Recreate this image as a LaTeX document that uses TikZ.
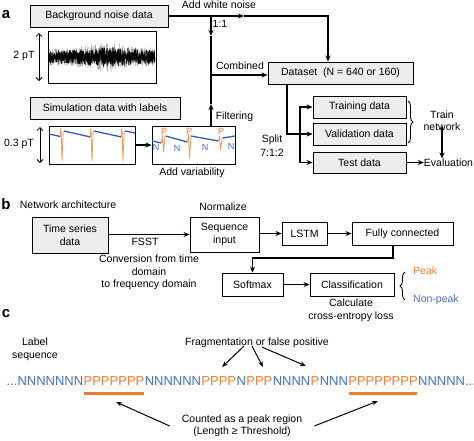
\documentclass[tikz,border=0pt]{standalone}
\usepackage{fontspec}
\setmainfont{Liberation Sans}
\usetikzlibrary{arrows.meta,decorations.pathreplacing,calc}
\definecolor{bxgray}{HTML}{EDEDED}
\definecolor{pkorange}{HTML}{ED7D31}
\definecolor{npblue}{HTML}{4472C4}
\definecolor{sigblue}{HTML}{2F5DB8}
\definecolor{sigorange}{HTML}{EE9A5A}
\begin{document}
\begin{tikzpicture}[x=1pt,y=-1pt,
  every node/.style={font=\fontsize{10.5}{12.5}\selectfont, inner sep=0pt},
  gbox/.style={draw, fill=bxgray, line width=0.9pt},
  wbox/.style={draw, fill=white, line width=0.9pt},
  conn/.style={line width=1.2pt, -{Stealth[length=6pt,width=5pt]}},
  plainline/.style={line width=1.2pt},
  scalebar/.style={line width=0.8pt, {Straight Barb[length=3pt,width=6pt]}-{Straight Barb[length=3pt,width=6pt]}},
  panel/.style={font=\fontsize{15}{16}\selectfont\bfseries},
  seqtxt/.style={font=\fontsize{13}{15}\selectfont, anchor=base west},
  seqN/.style={seqtxt, text=npblue},
  seqP/.style={seqtxt, text=pkorange},
  bar/.style={pkorange, line width=3.5pt},
  thinarr/.style={line width=1pt, -{Stealth[length=6pt,width=4.5pt]}},
  bracepath/.style={decorate, decoration={brace, amplitude=5pt}, line width=0.9pt},
  blueline/.style={sigblue, line width=1.3pt},
  spike/.style={sigorange, line width=0.8pt, line join=round},
]
\useasboundingbox (0,0) rectangle (474,440);

% ---------------- panel a ----------------
\node[panel] (pa) at (6,15) {a};
\node[gbox, minimum width=138pt, minimum height=22pt] (bg) at (99,16) {Background noise data};
\node[wbox, minimum width=108pt, minimum height=52pt] (nz) at (102,57) {};
\node[gbox, minimum width=150pt, minimum height=22pt] (sim) at (105,108) {Simulation data with labels};
\node[wbox, minimum width=86pt, minimum height=38pt] (sg1) at (92,145) {};
\node[wbox, minimum width=83pt, minimum height=38pt] (var) at (193.5,145) {};
\node[gbox, minimum width=145pt, minimum height=22pt] (ds) at (340.5,73) {Dataset\ \ (N = 640 or 160)};
\node[gbox, minimum width=93pt, minimum height=22pt] (train) at (359.5,107) {Training data};
\node[gbox, minimum width=93pt, minimum height=22pt] (val) at (359.5,134) {Validation data};
\node[gbox, minimum width=93pt, minimum height=21pt] (test) at (359.5,162.5) {Test data};

% noise signal
\pgfmathsetseed{12}
\draw[gray!70, line width=0.45pt] plot[samples=420, domain=49:155] (\x,{57+rand*(9+6*exp(-(((\x-108)/22)^2)))});
\draw[black, line width=0.55pt] plot[samples=520, domain=49:155] (\x,{57+rand*(7+3*exp(-(((\x-108)/22)^2)))});
\draw[black, line width=0.5pt] plot[samples=300, domain=49:155] (\x,{57+rand*(4.5+1.5*exp(-(((\x-108)/22)^2)))});

% scale bars
\draw[scalebar] (39,33) -- (39,81);
\node (lab2pt) at (24,56) {2 pT};
\draw[scalebar] (40,127) -- (40,163);
\node (lab03) at (19,144) {0.3 pT};

% simulated signal 1
\draw[blueline] (49,134) -- (60.5,136.5);
\draw[blueline] (64,131) -- (90.5,137);
\draw[blueline] (94,131) -- (121.5,137);
\draw[blueline] (125,131) -- (135,133);
\foreach \s in {62,92,123}{
  \draw[spike] (\s-2,136) -- (\s-1,128.5) -- (\s,161) -- (\s+1.2,131.5);
}
% signal with variability
\draw[blueline] (152,141) -- (161.5,143);
\draw[blueline] (165.5,136) -- (187.5,142);
\draw[blueline] (191,136) -- (218.5,141);
\draw[blueline] (222.5,138) -- (235,136);
\draw[spike] (161.5,143) -- (162.5,135) -- (163.5,152) -- (165,136.5);
\draw[spike] (187.5,142) -- (188.5,134) -- (189.5,158) -- (191,136.5);
\draw[spike] (218.5,141) -- (219.5,136) -- (220.5,150) -- (222,138.5);
\foreach \px/\nm in {164/p1,189/p2,221/p3}{
  \node[text=pkorange, font=\fontsize{9}{10}\selectfont] (\nm) at (\px,131.5) {P};
}
\foreach \nx/\ny/\nm in {156/147/n1,177/148/n2,205/147/n3,231/146/n4}{
  \node[text=npblue, font=\fontsize{9}{10}\selectfont] (\nm) at (\nx,\ny) {N};
}
\draw[conn] (sg1.east) -- (var.west);
\node (addvar) at (192,172.5) {Add variability};

% connectors
\coordinate (j1) at (211,16);
\coordinate (mid1) at (244,16);
\coordinate (cnr) at (328,16);
\coordinate (dn1) at (211,36);
\coordinate (up1) at (211,104);
\coordinate (cmb) at (211,75);
\draw[conn] (bg.east) -- (mid1);
\draw[conn] (mid1) -- (cnr) -- (cnr |- ds.north);
\draw[conn] (j1) -- (dn1);
\draw[plainline] (dn1) -- (up1);
\draw[conn] (var.north -| j1) -- (up1);
\draw[conn] (cmb) -- (cmb -| ds.west);
\node (addwn) at (219,4.5) {Add white noise};
\node (r11) at (220,24) {1:1};
\node (comb) at (240,66) {Combined};
\node (filt) at (234.5,116.5) {Filtering};

\coordinate (dsx) at (287,84);
\coordinate (spl) at (300,162.5);
\draw[conn] (dsx) |- (val.west);
\draw[conn] (spl) |- (train.west);
\draw[conn] (spl) -- (test.west);
\node[align=center] (split) at (272,145.5) {Split\\[1pt]7:1:2};

\draw[bracepath] (408,101) -- (408,143);
\node[align=center] (tn) at (442,120.5) {Train\\network};
\node (eval) at (448.5,162.5) {Evaluation};
\draw[conn] (test.east) -- (eval.west);
\draw[conn] ([yshift=4pt]tn.south) -- (tn.south |- eval.north);

% ---------------- panel b ----------------
\node[panel] (pb) at (6,204) {b};
\node (netarch) at (68,205) {Network architecture};
\node[gbox, minimum width=76pt, minimum height=36pt, align=center] (ts) at (70,235) {Time series\\data};
\node[wbox, minimum width=69pt, minimum height=35pt, align=center] (seq) at (224.5,234.5) {Sequence\\input};
\node[wbox, minimum width=45pt, minimum height=23pt] (lstm) at (304.5,233.5) {LSTM};
\node[wbox, minimum width=101pt, minimum height=23pt] (fc) at (402.5,233.5) {Fully connected};
\node[wbox, minimum width=61pt, minimum height=23pt] (sm) at (252.5,284.5) {Softmax};
\node[wbox, minimum width=84pt, minimum height=23pt] (cls) at (352,284.5) {Classification};
\node (norm) at (223,207) {Normalize};
\node (fsst) at (145,242) {FSST};
\node[align=center] (conv) at (149,272.5) {Conversion from time\\domain\\to frequency domain};
\node[align=center] (calc) at (351,310.5) {Calculate\\cross-entropy loss};

\draw[conn] (ts.east |- seq.west) -- (seq.west);
\draw[conn] (seq.east |- lstm.west) -- (lstm.west);
\draw[conn] (lstm.east) -- (fc.west);
\coordinate (fcx) at (393,245);
\coordinate (fcy) at (393,258);
\draw[conn] (fc.south -| fcx) -- (fcy) -| (sm.north);
\draw[conn] (sm.east) -- (cls.west);
\draw[bracepath] (405,300) -- (405,272);
\node[anchor=west, text=pkorange] (peak) at (413,270.5) {Peak};
\node[anchor=west, text=npblue] (npk) at (413,300) {Non-peak};

% ---------------- panel c ----------------
\node[panel] (pc) at (6,314) {c};
\node[align=center] (lblseq) at (35,349.5) {Label\\sequence};
\node[seqN] (r0) at (6.5,385) {...NNNNNNN};
\node[seqP] (r1) at (r0.base east) {PPPPPPP};
\node[seqN] (r2) at (r1.base east) {NNNNNN};
\node[seqP] (r3) at (r2.base east) {PPPP};
\node[seqN] (r4) at (r3.base east) {N};
\node[seqP] (r5) at (r4.base east) {PPP};
\node[seqN] (r6) at (r5.base east) {NNNN};
\node[seqP] (r7) at (r6.base east) {P};
\node[seqN] (r8) at (r7.base east) {NNN};
\node[seqP] (r9) at (r8.base east) {PPPPPPPP};
\node[seqN] (r10) at (r9.base east) {NNNNN...};

\draw[bar] ($(r1.base west)+(0.5,8.5)$) -- ($(r1.base east)+(-0.5,8.5)$);
\draw[bar] ($(r9.base west)+(0.5,8.5)$) -- ($(r9.base east)+(-0.5,8.5)$);

\node (frag) at (257,343) {Fragmentation or false positive};
\coordinate (t1) at (222,367);
\coordinate (t2) at (263,367);
\coordinate (t3) at (306,366);
\draw[thinarr] ([xshift=-13pt,yshift=2pt]frag.south) -- (t1);
\draw[thinarr] ([xshift=-5pt,yshift=2pt]frag.south) -- (t2);
\draw[thinarr] ([xshift=5pt,yshift=1pt]frag.south) -- (t3);

\node[align=center] (cnt) at (242,426) {Counted as a peak region\\(Length ≥ Threshold)};
\coordinate (b1) at (116,402);
\coordinate (b2) at (378,401);
\draw[thinarr] ([xshift=-12pt]cnt.west) -- (b1);
\draw[thinarr] ([xshift=12pt]cnt.east) -- (b2);
\end{tikzpicture}
\end{document}
